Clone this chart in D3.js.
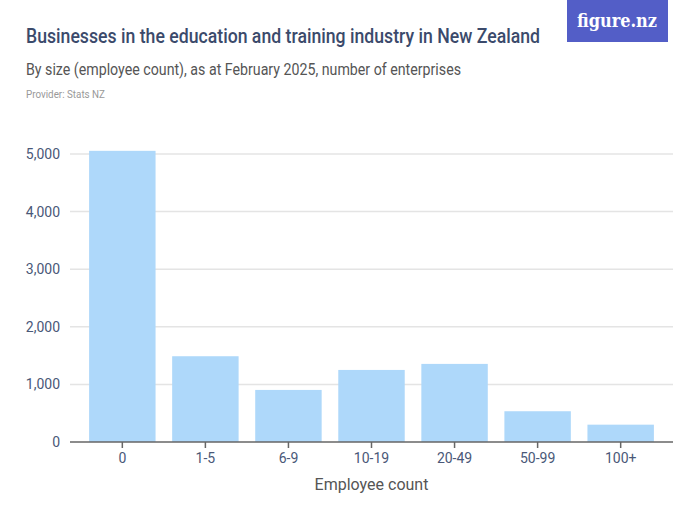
<!DOCTYPE html>
<html>
<head>
<meta charset="utf-8">
<script src="https://cdn.jsdelivr.net/npm/d3@7"></script>
<style>
  body { margin: 0; background: #fff; }
  svg { display: block; font-family: Roboto, "Noto Sans", sans-serif; }
</style>
</head>
<body>
<div id="chart"></div>
<script>
// chart data
const categories = ['0', '1-5', '6-9', '10-19', '20-49', '50-99', '100+']
const values = [5055, 1489, 904, 1251, 1356, 534, 301]
const yTicks = [0, 1000, 2000, 3000, 4000, 5000]

const title = 'Businesses in the education and training industry in New Zealand'
const subtitle = 'By size (employee count), as at February 2025, number of enterprises'
const provider = 'Provider: Stats NZ'
const xTitle = 'Employee count'

const data = categories.map((c, i) => ({name: c, value: values[i]}))

const width = 700
const height = 525
const margin = ({top: 154, right: 27, bottom: 83, left: 70})
const baseline = height - margin.bottom

const x = d3.scaleBand()
  .domain(categories)
  .range([margin.left, width - margin.right])
  .paddingInner(0.2)
  .paddingOuter(0.23)

const y = d3.scaleLinear()
  .domain([0, 5000])
  .range([baseline, margin.top])

const svg = d3.create('svg')
  .attr('width', width)
  .attr('height', height)
  .attr('viewBox', [0, 0, width, height])

// header text
svg.append('text')
  .attr('x', 26).attr('y', 43)
  .attr('fill', '#3b4a6b')
  .attr('font-size', 20)
  .attr('font-weight', 500)
  .attr('textLength', 514)
  .attr('lengthAdjust', 'spacingAndGlyphs')
  .text(title)

svg.append('text')
  .attr('x', 26).attr('y', 75)
  .attr('fill', '#555')
  .attr('font-size', 16)
  .attr('textLength', 435)
  .attr('lengthAdjust', 'spacingAndGlyphs')
  .text(subtitle)

svg.append('text')
  .attr('x', 26).attr('y', 98)
  .attr('fill', '#999')
  .attr('font-size', 10.5)
  .attr('textLength', 79)
  .attr('lengthAdjust', 'spacingAndGlyphs')
  .text(provider)

// logo
const logo = svg.append('g')
logo.append('rect')
  .attr('x', 567).attr('y', 0)
  .attr('width', 101).attr('height', 42)
  .attr('fill', '#535ec7')
logo.append('text')
  .attr('x', 617).attr('y', 27)
  .attr('text-anchor', 'middle')
  .attr('fill', '#fff')
  .attr('font-family', '"DejaVu Serif", "Liberation Serif", serif')
  .attr('font-weight', 'bold')
  .attr('font-size', 19)
  .attr('textLength', 80)
  .attr('lengthAdjust', 'spacingAndGlyphs')
  .text('figure.nz')

// gridlines
svg.append('g')
  .selectAll('line')
  .data(yTicks.filter(d => d > 0))
  .join('line')
  .attr('x1', margin.left)
  .attr('x2', width - margin.right)
  .attr('y1', d => y(d))
  .attr('y2', d => y(d))
  .attr('stroke', '#e4e4e4')
  .attr('stroke-width', 1.5)

// bars
svg.append('g')
  .selectAll('rect')
  .data(data)
  .join('rect')
  .attr('x', d => x(d.name))
  .attr('y', d => y(d.value))
  .attr('width', x.bandwidth())
  .attr('height', d => y(0) - y(d.value))
  .attr('fill', '#aed8fa')

// y axis labels
const yAxis = g => g
  .attr('transform', `translate(${margin.left}, 0)`)
  .call(d3.axisLeft(y).tickValues(yTicks).tickFormat(d3.format(',')).tickSize(0).tickPadding(10))
  .call(g => g.select('.domain').remove())
  .call(g => g.selectAll('text')
    .attr('fill', '#4a5878')
    .attr('font-size', 14)
    .attr('font-family', 'Roboto, sans-serif'))

svg.append('g').call(yAxis)

// x axis
const xAxis = g => g
  .attr('transform', `translate(0, ${baseline})`)
  .call(d3.axisBottom(x).tickSizeOuter(0).tickSize(6).tickPadding(5))
  .call(g => g.select('.domain')
    .attr('d', `M${margin.left},0H${width - margin.right}`)
    .attr('stroke', '#666')
    .attr('stroke-width', 1.5))
  .call(g => g.selectAll('.tick line').attr('stroke', '#666').attr('stroke-width', 1.5))
  .call(g => g.selectAll('text')
    .attr('fill', '#4a5878')
    .attr('font-size', 14)
    .attr('font-family', 'Roboto, sans-serif'))

svg.append('g').call(xAxis)

svg.append('text')
  .attr('x', (margin.left + width - margin.right) / 2)
  .attr('y', 490)
  .attr('text-anchor', 'middle')
  .attr('fill', '#555')
  .attr('font-size', 16)
  .text(xTitle)

document.getElementById('chart').appendChild(svg.node())
</script>
</body>
</html>
